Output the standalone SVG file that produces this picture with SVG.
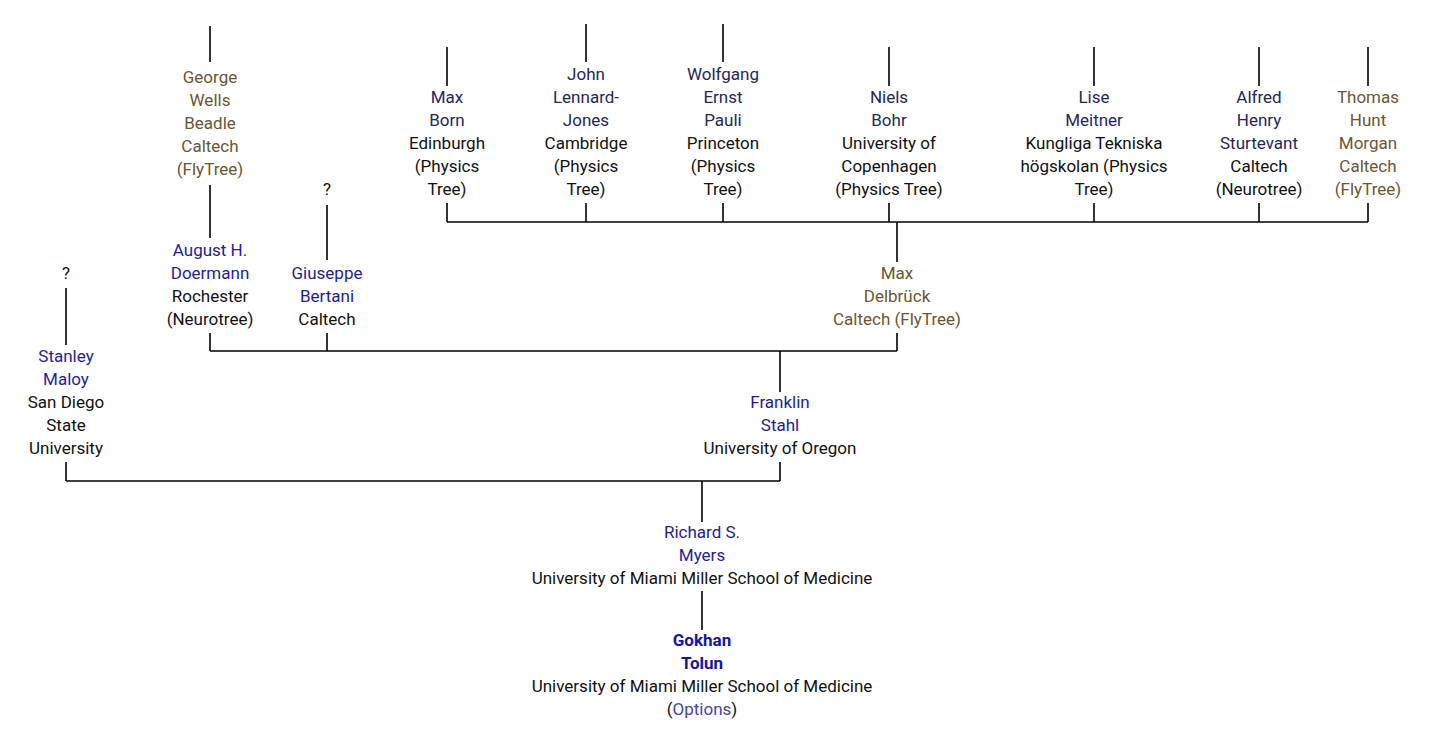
<svg xmlns="http://www.w3.org/2000/svg" width="1440" height="744" viewBox="0 0 1440 744">
<style>
text{font-family:Roboto,"Liberation Sans",sans-serif;font-size:17px;text-anchor:middle;fill:#111}
.fly{fill:#6b5632}.phy{fill:#26265e}.loc{fill:#1e1e96}.me{fill:#1414a8;font-weight:bold}.opt{fill:#4444aa}
line{stroke:#000;stroke-width:1.6}
</style>
<rect width="1440" height="744" fill="#fff"/>
<g id="connectors">
<line x1="210" y1="26" x2="210" y2="62"/><line x1="210" y1="185" x2="210" y2="238"/>
<line x1="327" y1="205" x2="327" y2="260"/><line x1="66" y1="288" x2="66" y2="345"/>
<line x1="447" y1="47" x2="447" y2="86"/><line x1="586" y1="24" x2="586" y2="62"/>
<line x1="723" y1="24" x2="723" y2="62"/><line x1="889" y1="47" x2="889" y2="86"/>
<line x1="1094" y1="47" x2="1094" y2="86"/><line x1="1259" y1="47" x2="1259" y2="86"/>
<line x1="1368" y1="47" x2="1368" y2="86"/>
<line x1="447" y1="203" x2="447" y2="222"/><line x1="586" y1="203" x2="586" y2="222"/>
<line x1="723" y1="203" x2="723" y2="222"/><line x1="889" y1="203" x2="889" y2="222"/>
<line x1="1094" y1="203" x2="1094" y2="222"/><line x1="1259" y1="203" x2="1259" y2="222"/>
<line x1="1368" y1="203" x2="1368" y2="222"/>
<line x1="447" y1="222" x2="1368" y2="222"/><line x1="897" y1="222" x2="897" y2="262"/>
<line x1="210" y1="333" x2="210" y2="351"/><line x1="327" y1="333" x2="327" y2="351"/>
<line x1="897" y1="333" x2="897" y2="351"/>
<line x1="210" y1="351" x2="897" y2="351"/><line x1="780" y1="351" x2="780" y2="392"/>
<line x1="66" y1="462" x2="66" y2="481"/><line x1="780" y1="462" x2="780" y2="481"/>
<line x1="66" y1="481" x2="780" y2="481"/><line x1="702" y1="481" x2="702" y2="522"/>
<line x1="702" y1="591" x2="702" y2="630"/>
</g>
<g id="beadle"><text x="210" y="83" class="fly">George</text><text x="210" y="106" class="fly">Wells</text><text x="210" y="129" class="fly">Beadle</text><text x="210" y="152" class="fly">Caltech</text><text x="210" y="175" class="fly">(FlyTree)</text></g>
<g id="doermann"><text x="210" y="256" class="loc">August H.</text><text x="210" y="279" class="loc">Doermann</text><text x="210" y="302">Rochester</text><text x="210" y="325">(Neurotree)</text></g>
<g id="q1"><text x="327" y="195">?</text></g>
<g id="bertani"><text x="327" y="279" class="loc">Giuseppe</text><text x="327" y="302" class="loc">Bertani</text><text x="327" y="325">Caltech</text></g>
<g id="q2"><text x="66" y="279">?</text></g>
<g id="maloy"><text x="66" y="362" class="loc">Stanley</text><text x="66" y="385" class="loc">Maloy</text><text x="66" y="408">San Diego</text><text x="66" y="431">State</text><text x="66" y="454">University</text></g>
<g id="born"><text x="447" y="103" class="phy">Max</text><text x="447" y="126" class="phy">Born</text><text x="447" y="149">Edinburgh</text><text x="447" y="172">(Physics</text><text x="447" y="195">Tree)</text></g>
<g id="lennard"><text x="586" y="80" class="phy">John</text><text x="586" y="103" class="phy">Lennard-</text><text x="586" y="126" class="phy">Jones</text><text x="586" y="149">Cambridge</text><text x="586" y="172">(Physics</text><text x="586" y="195">Tree)</text></g>
<g id="pauli"><text x="723" y="80" class="phy">Wolfgang</text><text x="723" y="103" class="phy">Ernst</text><text x="723" y="126" class="phy">Pauli</text><text x="723" y="149">Princeton</text><text x="723" y="172">(Physics</text><text x="723" y="195">Tree)</text></g>
<g id="bohr"><text x="889" y="103" class="phy">Niels</text><text x="889" y="126" class="phy">Bohr</text><text x="889" y="149">University of</text><text x="889" y="172">Copenhagen</text><text x="889" y="195">(Physics Tree)</text></g>
<g id="meitner"><text x="1094" y="103" class="phy">Lise</text><text x="1094" y="126" class="phy">Meitner</text><text x="1094" y="149">Kungliga Tekniska</text><text x="1094" y="172">högskolan (Physics</text><text x="1094" y="195">Tree)</text></g>
<g id="sturtevant"><text x="1259" y="103" class="phy">Alfred</text><text x="1259" y="126" class="phy">Henry</text><text x="1259" y="149" class="phy">Sturtevant</text><text x="1259" y="172">Caltech</text><text x="1259" y="195">(Neurotree)</text></g>
<g id="morgan"><text x="1368" y="103" class="fly">Thomas</text><text x="1368" y="126" class="fly">Hunt</text><text x="1368" y="149" class="fly">Morgan</text><text x="1368" y="172" class="fly">Caltech</text><text x="1368" y="195" class="fly">(FlyTree)</text></g>
<g id="delbruck"><text x="897" y="279" class="fly">Max</text><text x="897" y="302" class="fly">Delbrück</text><text x="897" y="325" class="fly">Caltech (FlyTree)</text></g>
<g id="stahl"><text x="780" y="408" class="loc">Franklin</text><text x="780" y="431" class="loc">Stahl</text><text x="780" y="454">University of Oregon</text></g>
<g id="myers"><text x="702" y="538" class="loc">Richard S.</text><text x="702" y="561" class="loc">Myers</text><text x="702" y="584">University of Miami Miller School of Medicine</text></g>
<g id="tolun"><text x="702" y="646" class="me">Gokhan</text><text x="702" y="669" class="me">Tolun</text><text x="702" y="692">University of Miami Miller School of Medicine</text><text x="702" y="715">(<tspan class="opt">Options</tspan>)</text></g>
</svg>
